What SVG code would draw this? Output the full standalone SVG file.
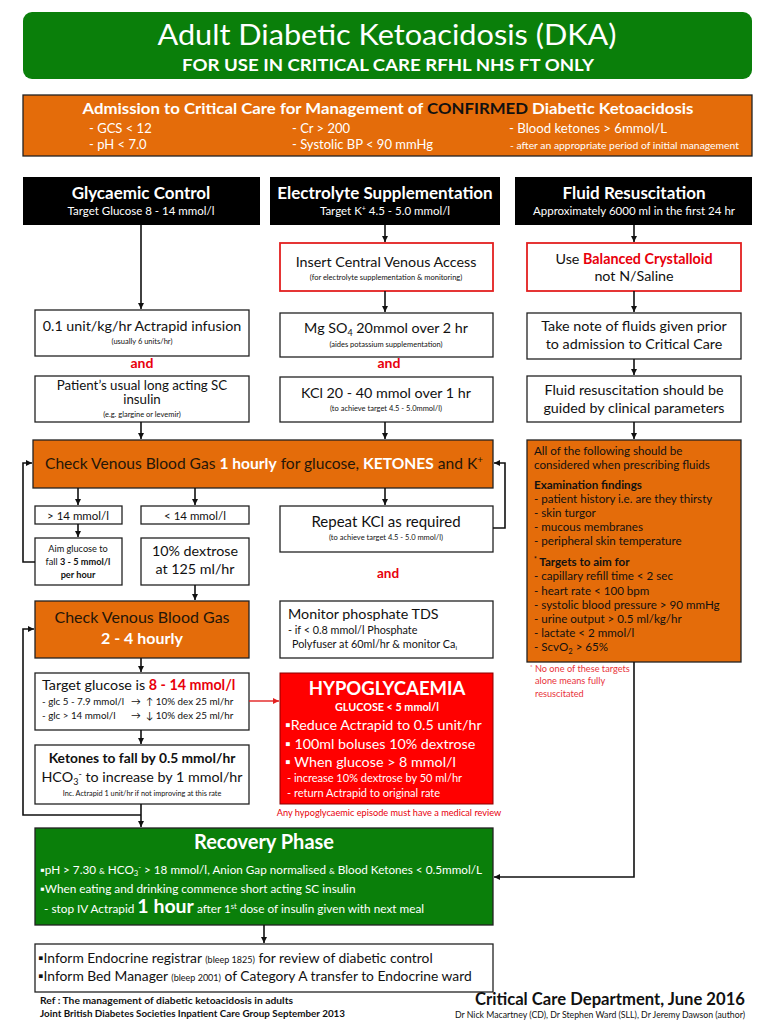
<svg xmlns="http://www.w3.org/2000/svg" width="768" height="1024" viewBox="0 0 768 1024">
<defs>
<style>
text{font-family:Lato,"Open Sans","Liberation Sans",sans-serif;fill:#111}
.w{fill:#fff}
.b{font-weight:bold}
.c{text-anchor:middle}
.e{text-anchor:end}
.red{fill:#e8000b}
.pk{fill:#e8333a}
.dk{fill:#241608}
.box{fill:#fff;stroke:#222;stroke-width:1.3}
.rbox{fill:#fff;stroke:#e32020;stroke-width:1.8}
.hdr{fill:#000}
.org{fill:#e46c0a;stroke:#222;stroke-width:1.3}
.grn{fill:#0a7f0a;stroke:#222;stroke-width:1.3}
.ln{fill:none;stroke:#111;stroke-width:1.6}
.rln{fill:none;stroke:#e32020;stroke-width:1.4}
</style>
<marker id="ah" markerWidth="7" markerHeight="7" refX="6" refY="3.5" orient="auto" markerUnits="userSpaceOnUse"><path d="M0,0.5 L6,3.5 L0,6.5 Z" fill="#111"/></marker>
<marker id="rah" markerWidth="7" markerHeight="7" refX="6" refY="3.5" orient="auto" markerUnits="userSpaceOnUse"><path d="M0,0.5 L6,3.5 L0,6.5 Z" fill="#e32020"/></marker>
</defs>
<rect width="768" height="1024" fill="#fff"/>

<g id="title">
<rect x="23" y="12" width="729" height="67" rx="9" fill="#0a7f0a"/>
<text x="387" y="45" class="w c" font-size="28" textLength="459" lengthAdjust="spacingAndGlyphs">Adult Diabetic Ketoacidosis (DKA)</text>
<text x="388" y="71" class="w c b" font-size="17" textLength="412" lengthAdjust="spacingAndGlyphs">FOR USE IN CRITICAL CARE RFHL NHS FT ONLY</text>
</g>

<g id="admission">
<rect x="23" y="95" width="729" height="61" class="org"/>
<text x="388" y="114" class="c b" font-size="16" textLength="611" lengthAdjust="spacingAndGlyphs"><tspan class="w">Admission to Critical Care for Management of </tspan><tspan>CONFIRMED</tspan><tspan class="w"> Diabetic Ketoacidosis</tspan></text>
<text x="89" y="133" class="w" font-size="13">- GCS &lt; 12</text>
<text x="89" y="149" class="w" font-size="13">- pH &lt; 7.0</text>
<text x="292" y="133" class="w" font-size="13">- Cr &gt; 200</text>
<text x="292" y="149" class="w" font-size="13" textLength="141" lengthAdjust="spacingAndGlyphs">- Systolic BP &lt; 90 mmHg</text>
<text x="509" y="133" class="w" font-size="13" textLength="158" lengthAdjust="spacingAndGlyphs">- Blood ketones &gt; 6mmol/L</text>
<text x="510" y="149" class="w" font-size="9" textLength="229" lengthAdjust="spacingAndGlyphs">- after an appropriate period of initial management</text>
</g>

<g id="hdr-glycaemic">
<rect x="23" y="177" width="237" height="48" class="hdr"/>
<text x="141" y="199" class="w c b" font-size="17">Glycaemic Control</text>
<text x="141" y="215" class="w c" font-size="11.5">Target Glucose 8 - 14 mmol/l</text>
</g>
<g id="hdr-electrolyte">
<rect x="270" y="177" width="230" height="48" class="hdr"/>
<text x="385" y="199" class="w c b" font-size="17">Electrolyte Supplementation</text>
<text x="385" y="215" class="w c" font-size="11.5">Target K<tspan font-size="7" dy="-4">+</tspan><tspan dy="4"> 4.5 - 5.0 mmol/l</tspan></text>
</g>
<g id="hdr-fluid">
<rect x="515" y="177" width="237" height="48" class="hdr"/>
<text x="634" y="199" class="w c b" font-size="17">Fluid Resuscitation</text>
<text x="634" y="215" class="w c" font-size="11.5">Approximately 6000 ml in the first 24 hr</text>
</g>

<g id="actrapid">
<rect x="35" y="310" width="214" height="46" class="box"/>
<text x="142" y="331" class="c" font-size="14.3">0.1 unit/kg/hr Actrapid infusion</text>
<text x="142" y="344" class="c" font-size="7.5">(usually 6 units/hr)</text>
</g>
<text x="142" y="368" class="c b red" font-size="14">and</text>
<g id="longacting">
<rect x="35" y="376" width="214" height="46" class="box"/>
<text x="142" y="390" class="c" font-size="13.3">Patient’s usual long acting SC</text>
<text x="142" y="404" class="c" font-size="13.3">insulin</text>
<text x="142" y="417" class="c" font-size="7.5">(e.g. glargine or levemir)</text>
</g>

<g id="central">
<rect x="280" y="243" width="213" height="48" class="rbox"/>
<text x="386" y="267" class="c" font-size="14.3">Insert Central Venous Access</text>
<text x="386" y="280" class="c" font-size="7.5">(for electrolyte supplementation &amp; monitoring)</text>
</g>
<g id="mgso4">
<rect x="280" y="313" width="213" height="44" class="box"/>
<text x="386" y="333" class="c" font-size="14.3">Mg SO<tspan font-size="9" dy="3">4</tspan><tspan dy="-3"> 20mmol over 2 hr</tspan></text>
<text x="386" y="347" class="c" font-size="7.5">(aides potassium supplementation)</text>
</g>
<text x="389" y="368" class="c b red" font-size="14">and</text>
<g id="kcl">
<rect x="280" y="377" width="213" height="45" class="box"/>
<text x="386" y="398" class="c" font-size="14.3">KCl 20 - 40 mmol over 1 hr</text>
<text x="386" y="411" class="c" font-size="7.5">(to achieve target 4.5 - 5.0mmol/l)</text>
</g>

<g id="crystalloid">
<rect x="527" y="243" width="214" height="48" class="rbox"/>
<text x="634" y="264" class="c" font-size="14.3">Use <tspan class="b red">Balanced Crystalloid</tspan></text>
<text x="634" y="281" class="c" font-size="14.3">not N/Saline</text>
</g>
<g id="takenote">
<rect x="527" y="313" width="214" height="46" class="box"/>
<text x="634" y="331" class="c" font-size="14.3">Take note of fluids given prior</text>
<text x="634" y="349" class="c" font-size="14.3">to admission to Critical Care</text>
</g>
<g id="guided">
<rect x="527" y="376" width="214" height="46" class="box"/>
<text x="634" y="395" class="c" font-size="14.3">Fluid resuscitation should be</text>
<text x="634" y="413" class="c" font-size="14.3">guided by clinical parameters</text>
</g>

<g id="vbg1">
<rect x="33" y="440" width="460" height="48" class="org"/>
<text x="264" y="469" class="c dk" font-size="15.8" textLength="438" lengthAdjust="spacingAndGlyphs">Check Venous Blood Gas <tspan class="w b">1 hourly</tspan> for glucose, <tspan class="w b">KETONES</tspan> and K<tspan font-size="10" dy="-6">+</tspan></text>
</g>

<g id="gt14">
<rect x="35" y="506" width="87" height="18" class="box"/>
<text x="78" y="519.5" class="c" font-size="11.5">&gt; 14 mmol/l</text>
</g>
<g id="lt14">
<rect x="141" y="506" width="108" height="18" class="box"/>
<text x="195" y="519.5" class="c" font-size="11.5">&lt; 14 mmol/l</text>
</g>
<g id="aim">
<rect x="35" y="538" width="87" height="47" class="box"/>
<text x="78" y="552" class="c" font-size="9.2">Aim glucose to</text>
<text x="78" y="565" class="c" font-size="9.2">fall <tspan class="b">3 - 5 mmol/l</tspan></text>
<text x="78" y="578" class="c b" font-size="9.2">per hour</text>
</g>
<g id="dextrose">
<rect x="141" y="538" width="108" height="47" class="box"/>
<text x="195" y="556" class="c" font-size="14.3">10% dextrose</text>
<text x="195" y="574" class="c" font-size="14.3">at 125 ml/hr</text>
</g>
<g id="repeatkcl">
<rect x="280" y="506" width="213" height="46" class="box"/>
<text x="386" y="527" class="c" font-size="15">Repeat KCl as required</text>
<text x="386" y="540" class="c" font-size="7.5">(to achieve target 4.5 - 5.0 mmol/l)</text>
</g>
<text x="388" y="578" class="c b red" font-size="13.5">and</text>

<g id="vbg2">
<rect x="35" y="601" width="214" height="57" class="org"/>
<text x="142" y="623" class="c dk" font-size="16">Check Venous Blood Gas</text>
<text x="142" y="644" class="c b w" font-size="16">2 - 4 hourly</text>
</g>
<g id="phosphate">
<rect x="280" y="601" width="213" height="57" class="box"/>
<text x="288" y="619" font-size="14.3">Monitor phosphate TDS</text>
<text x="288" y="634" font-size="10.8">- if &lt; 0.8 mmol/l Phosphate</text>
<text x="292" y="648" font-size="10.8">Polyfuser at 60ml/hr &amp; monitor Ca<tspan font-size="6.5" dy="2">i</tspan></text>
</g>

<g id="fluidinfo">
<rect x="527" y="440" width="214" height="222" class="org"/>
<g font-size="11.6">
<text x="534" y="455">All of the following should be</text>
<text x="534" y="469">considered when prescribing fluids</text>
<text x="534" y="489" class="b">Examination findings</text>
<text x="534" y="503">- patient history i.e. are they thirsty</text>
<text x="534" y="517">- skin turgor</text>
<text x="534" y="531">- mucous membranes</text>
<text x="534" y="545">- peripheral skin temperature</text>
<text x="534" y="566" class="b"><tspan font-size="6.5" dy="-4">*</tspan><tspan dy="4"> Targets to aim for</tspan></text>
<text x="534" y="580">- capillary refill time &lt; 2 sec</text>
<text x="534" y="595">- heart rate &lt; 100 bpm</text>
<text x="534" y="609">- systolic blood pressure &gt; 90 mmHg</text>
<text x="534" y="623">- urine output  &gt; 0.5 ml/kg/hr</text>
<text x="534" y="637">- lactate &lt; 2 mmol/l</text>
<text x="534" y="651">- ScvO<tspan font-size="7.5" dy="3">2</tspan><tspan dy="-3"> &gt; 65%</tspan></text>
</g>
<g font-size="9.2">
<text x="530" y="672" class="pk"><tspan font-size="6" dy="-3">*</tspan><tspan dy="3"> No one of these targets</tspan></text>
<text x="535" y="684" class="pk">alone means fully</text>
<text x="535" y="697" class="pk">resuscitated</text>
</g>
</g>

<g id="targetglucose">
<rect x="35" y="673" width="214" height="57" class="box"/>
<text x="42" y="690" font-size="14.3">Target glucose is <tspan class="b red">8 - 14 mmol/l</tspan></text>
<text y="705" font-size="9.8"><tspan x="42">- glc 5 - 7.9 mmol/l</tspan><tspan x="131">→</tspan><tspan x="146">↑ 10% dex 25 ml/hr</tspan></text>
<text y="719" font-size="9.8"><tspan x="42">- glc &gt; 14 mmol/l</tspan><tspan x="131">→</tspan><tspan x="146">↓ 10% dex 25 ml/hr</tspan></text>
</g>
<g id="ketones">
<rect x="35" y="745" width="214" height="59" class="box"/>
<text x="142" y="763" class="c b" font-size="13.8">Ketones to fall by 0.5 mmol/hr</text>
<text x="142" y="782" class="c" font-size="14.3">HCO<tspan font-size="9" dy="3">3</tspan><tspan font-size="9" dy="-8">-</tspan><tspan dy="5"> to increase by 1 mmol/hr</tspan></text>
<text x="142" y="796" class="c" font-size="7.3">Inc. Actrapid 1 unit/hr  if not improving at this rate</text>
</g>

<g id="hypo">
<rect x="280" y="673" width="213" height="131" fill="#ff0000" stroke="#8a0000" stroke-width="1"/>
<text x="387" y="695" class="c b w" font-size="18.5">HYPOGLYCAEMIA</text>
<text x="387" y="711" class="c b w" font-size="11.5" textLength="104" lengthAdjust="spacingAndGlyphs">GLUCOSE &lt; 5 mmol/l</text>
<text x="285" y="730" class="w" font-size="14.3">▪Reduce Actrapid to 0.5 unit/hr</text>
<text x="285" y="749" class="w" font-size="14.3">▪ 100ml boluses 10% dextrose</text>
<text x="285" y="767" class="w" font-size="14.3">▪ When glucose &gt; 8 mmol/l</text>
<text x="287" y="782" class="w" font-size="11">- increase 10% dextrose by 50 ml/hr</text>
<text x="287" y="797" class="w" font-size="11">- return Actrapid to original rate</text>
</g>
<text x="389" y="816" class="c red" font-size="9.2">Any hypoglycaemic episode must have a medical review</text>

<g id="recovery">
<rect x="35" y="828" width="458" height="97" class="grn"/>
<text x="264" y="849" class="c b w" font-size="20">Recovery Phase</text>
<text x="40" y="874" class="w" font-size="11.5" textLength="442" lengthAdjust="spacingAndGlyphs">▪pH &gt; 7.30 <tspan font-size="8">&amp;</tspan> HCO<tspan font-size="7.5" dy="2">3</tspan><tspan font-size="7.5" dy="-6">-</tspan><tspan dy="4">  &gt; 18 mmol/l, Anion Gap normalised  </tspan><tspan font-size="8">&amp;</tspan> Blood Ketones &lt; 0.5mmol/L</text>
<text x="40" y="893" class="w" font-size="11.8">▪When eating and drinking commence short acting SC insulin</text>
<text x="44" y="913" class="w" font-size="11.8"> - stop IV Actrapid <tspan class="b" font-size="19.5">1 hour</tspan> after 1<tspan font-size="7.5" dy="-4">st</tspan><tspan dy="4"> dose of insulin  given with next meal</tspan></text>
</g>

<g id="inform">
<rect x="35" y="944" width="458" height="48" class="box"/>
<text x="38" y="963" font-size="13.8">▪Inform Endocrine registrar <tspan font-size="9">(bleep 1825)</tspan> for review of diabetic control</text>
<text x="38" y="981" font-size="13.8">▪Inform Bed Manager <tspan font-size="9">(bleep 2001)</tspan> of Category A transfer to Endocrine ward</text>
</g>

<g id="footer">
<text x="40" y="1004" class="b" font-size="9.3" textLength="253" lengthAdjust="spacingAndGlyphs">Ref : The management of diabetic ketoacidosis in adults</text>
<text x="40" y="1017" class="b" font-size="9.3" textLength="305" lengthAdjust="spacingAndGlyphs">Joint British Diabetes Societies Inpatient Care Group September 2013</text>
<text x="745" y="1005" class="e b" font-size="16.5" textLength="270" lengthAdjust="spacingAndGlyphs">Critical Care Department, June 2016</text>
<text x="745" y="1018" class="e" font-size="8.6" textLength="290" lengthAdjust="spacingAndGlyphs">Dr Nick Macartney (CD), Dr Stephen Ward (SLL), Dr Jeremy Dawson (author)</text>
</g>

<g id="connectors">
<path class="ln" marker-end="url(#ah)" d="M141,225 V309"/>
<path class="ln" marker-end="url(#ah)" d="M141,422 V439"/>
<path class="ln" marker-end="url(#ah)" d="M385,225 V242"/>
<path class="ln" marker-end="url(#ah)" d="M385,291 V312"/>
<path class="ln" marker-end="url(#ah)" d="M385,422 V439"/>
<path class="ln" marker-end="url(#ah)" d="M634,225 V242"/>
<path class="ln" marker-end="url(#ah)" d="M634,291 V312"/>
<path class="ln" marker-end="url(#ah)" d="M634,359 V375"/>
<path class="ln" marker-end="url(#ah)" d="M634,422 V439"/>
<path class="ln" marker-end="url(#ah)" d="M78,488 V505"/>
<path class="ln" marker-end="url(#ah)" d="M195,488 V505"/>
<path class="ln" marker-end="url(#ah)" d="M385,488 V505"/>
<path class="ln" marker-end="url(#ah)" d="M78,524 V537"/>
<path class="ln" marker-end="url(#ah)" d="M195,585 V600"/>
<path class="ln" marker-end="url(#ah)" d="M35,562 H23 V463 H32"/>
<path class="ln" marker-end="url(#ah)" d="M493,528 H505 V463 H494"/>
<path class="ln" marker-end="url(#ah)" d="M141,658 V672"/>
<path class="ln" marker-end="url(#ah)" d="M141,730 V744"/>
<path class="ln" marker-end="url(#ah)" d="M141,804 V827"/>
<path class="ln" marker-end="url(#ah)" d="M141,815 H23 V629 H34"/>
<path class="rln" marker-end="url(#rah)" d="M249,701 H279"/>
<path class="ln" marker-end="url(#ah)" d="M634,662 V877 H494"/>
<path class="ln" marker-end="url(#ah)" d="M264,925 V943"/>
</g>
</svg>
